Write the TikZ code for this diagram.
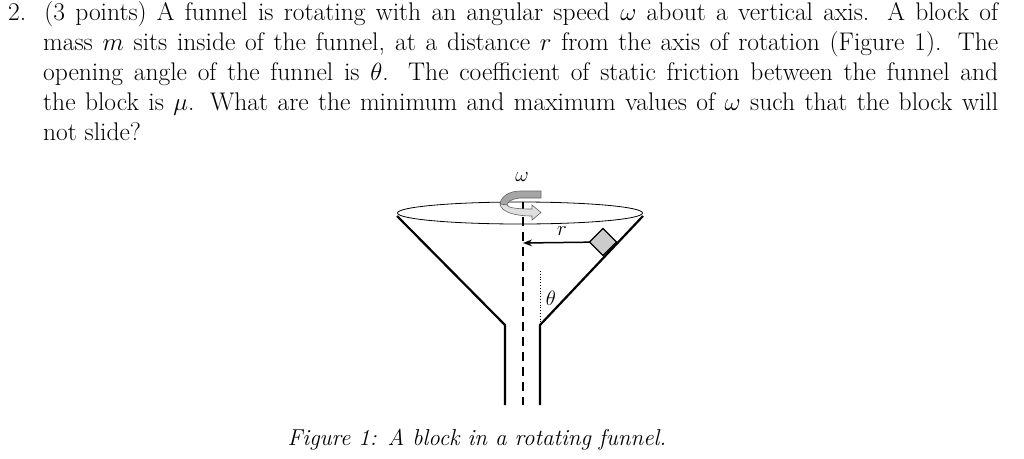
\documentclass[tikz,border=0pt]{standalone}
\usetikzlibrary{arrows.meta}
\begin{document}
\begin{tikzpicture}[x=1pt,y=-1pt,
  wall/.style={line width=2.2pt},
  axisline/.style={line width=2pt,dash pattern=on 9pt off 6pt},
  band/.style={draw=black!60,line width=0.6pt}]
\useasboundingbox (0,0) rectangle (1024,458);
\node[anchor=north west,inner sep=0pt,text width=990pt,align=justify,font=\fontsize{25.5}{30}\selectfont] (txt) at (8,1)
 {\hangindent=35pt\hangafter=1 \emergencystretch=3em 2. (3 points) A funnel is rotating with an angular speed $\omega$ about a vertical axis. A block of\linebreak{} mass $m$ sits inside of the funnel, at a distance $r$ from the axis of rotation (Figure 1). The\linebreak{} opening angle of the funnel is $\theta$. The coefficient of static friction between the funnel and\linebreak{} the block is $\mu$. What are the minimum and maximum values of $\omega$ such that the block will\linebreak{} not slide?\par};
% rim
\draw[line width=0.8pt] (520,213) ellipse [x radius=122.5, y radius=11];
% walls
\coordinate (lt) at (397,216); \coordinate (rt) at (643,216);
\coordinate (lb) at (505,325); \coordinate (rb) at (540,325);
\draw[wall] (lt) -- (lb) -- (505,405);
\draw[wall] (rt) -- (rb) -- (540,405);
% axis
\draw[axisline] (523,202) -- (523,405);
% dotted
\draw[dotted,line width=0.8pt] (rb) -- (540,270);
\node[font=\fontsize{20}{20}\selectfont] (th) at (551,298) {$\theta$};
% block
\coordinate (bc) at (603,242);
\draw[line width=1.5pt,-{Stealth[length=9pt]}] (bc) -- (523,243);
\node[draw,fill=gray!40,line width=1.3pt,minimum size=19pt,rotate=45,inner sep=0pt] (blk) at (bc) {};
\node[font=\fontsize{20}{20}\selectfont] (rl) at (562,231) {$r$};
\node[font=\fontsize{20}{20}\selectfont] (w) at (522,177) {$\omega$};
% rotation arrow: back part
\fill[gray!70,band] (541,191) -- (541,198) -- (520,198) .. controls (510,199) and (507,203) .. (507,205) -- (500,204) .. controls (501,196) and (510,191) .. (520,191) -- cycle;
% front part
\fill[gray!25,band] (500,204) .. controls (501,212) and (515,216) .. (532,216) -- (532,220) -- (541,212.5) -- (532,205) -- (532,209) .. controls (518,209) and (508,208) .. (507,205) -- cycle;
\node[font=\itshape\fontsize{23}{26}\selectfont] (cap) at (477,440) {Figure 1: A block in a rotating funnel.};
\end{tikzpicture}
\end{document}
